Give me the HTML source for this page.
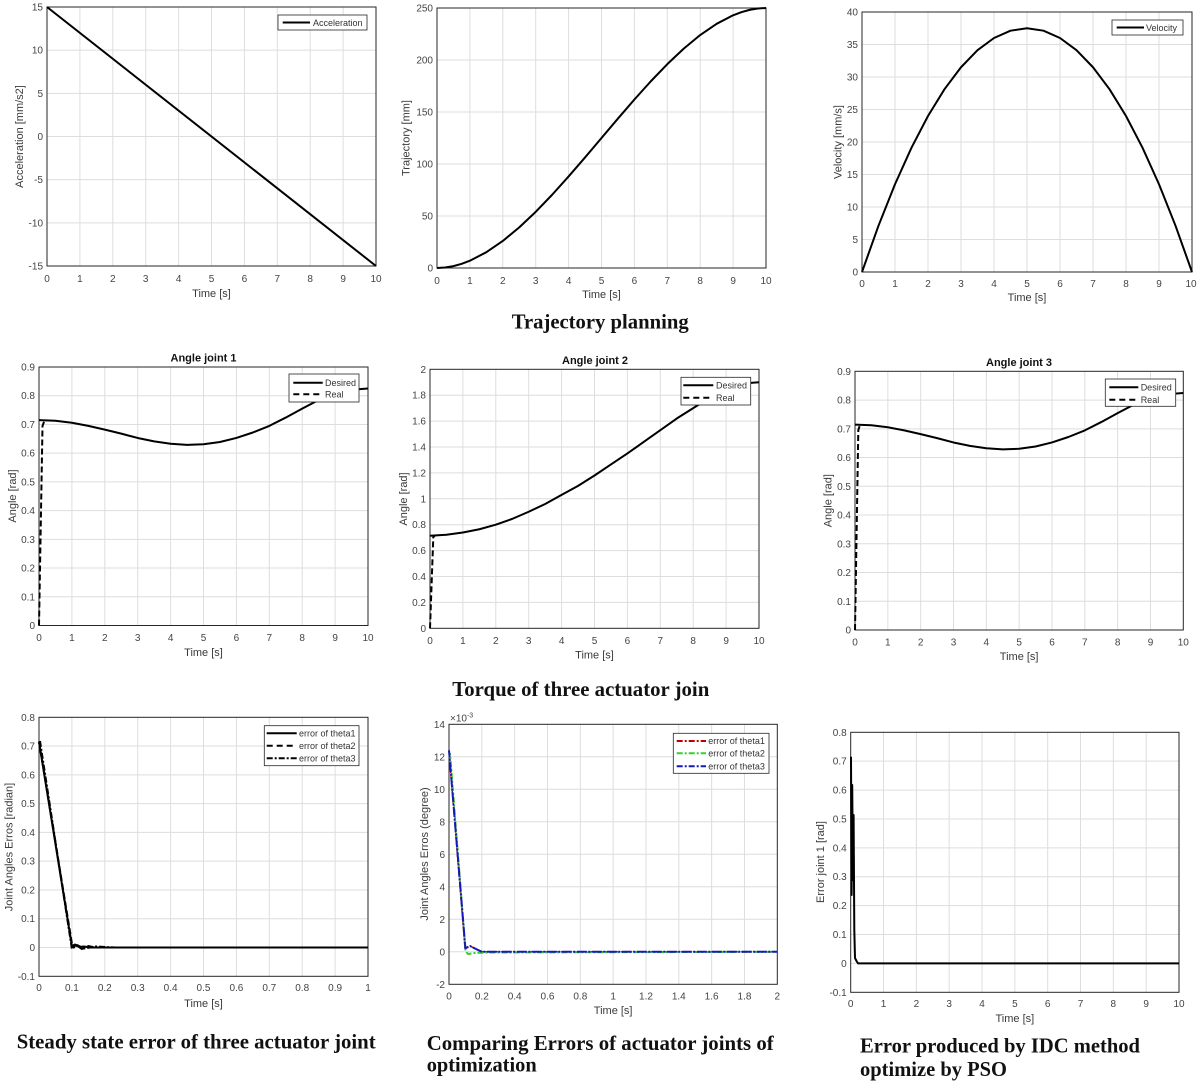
<!DOCTYPE html>
<html>
<head>
<meta charset="utf-8">
<style>
html,body{margin:0;padding:0;background:#fff;}
svg{display:block;}
.ax{font-family:"Liberation Sans",Arial,sans-serif;font-size:10px;fill:#444;}
.lab{font-family:"Liberation Sans",Arial,sans-serif;font-size:11px;fill:#3a3a3a;}
.ttl{font-family:"Liberation Sans",Arial,sans-serif;font-size:11px;font-weight:bold;fill:#111;}
.leg{font-family:"Liberation Sans",Arial,sans-serif;font-size:9px;fill:#333;}
.cap{font-family:"Liberation Serif","Times New Roman",serif;font-size:21px;font-weight:bold;fill:#111;}
.grid{stroke:#dcdedc;stroke-width:1;fill:none;}
.box{stroke:#262626;stroke-width:1;fill:none;}
.lbox{stroke:#262626;stroke-width:0.8;fill:#fff;}
.cv{fill:none;stroke:#000;stroke-width:2;stroke-linejoin:round;}
</style>
</head>
<body>
<svg width="1200" height="1084" viewBox="0 0 1200 1084" xmlns="http://www.w3.org/2000/svg">
<rect width="1200" height="1084" fill="#fff"/>

<!-- ================= P1 Acceleration ================= -->
<path class="grid" d="M79.9 7V266M112.8 7V266M145.7 7V266M178.6 7V266M211.5 7V266M244.4 7V266M277.3 7V266M310.2 7V266M343.1 7V266M47 50.17H376M47 93.33H376M47 136.5H376M47 179.67H376M47 222.83H376"/>
<rect class="box" x="47" y="7" width="329" height="259"/>
<path class="cv" d="M47 7L376 266"/>
<g class="ax" text-anchor="middle">
<text x="47" y="282">0</text><text x="79.9" y="282">1</text><text x="112.8" y="282">2</text><text x="145.7" y="282">3</text><text x="178.6" y="282">4</text><text x="211.5" y="282">5</text><text x="244.4" y="282">6</text><text x="277.3" y="282">7</text><text x="310.2" y="282">8</text><text x="343.1" y="282">9</text><text x="376" y="282">10</text>
</g>
<g class="ax" text-anchor="end">
<text x="43" y="10.5">15</text><text x="43" y="53.7">10</text><text x="43" y="96.8">5</text><text x="43" y="140">0</text><text x="43" y="183.2">-5</text><text x="43" y="226.3">-10</text><text x="43" y="269.5">-15</text>
</g>
<text class="lab" x="211.5" y="297" text-anchor="middle">Time [s]</text>
<text class="lab" transform="translate(23,136.5) rotate(-90)" text-anchor="middle">Acceleration [mm/s2]</text>
<rect class="lbox" x="278" y="15" width="89" height="15"/>
<path d="M282.7 22.5H310" stroke="#000" stroke-width="2"/>
<text class="leg" x="313" y="25.8">Acceleration</text>

<!-- ================= P2 Trajectory ================= -->
<path class="grid" d="M469.9 8V268M502.8 8V268M535.7 8V268M568.6 8V268M601.5 8V268M634.4 8V268M667.3 8V268M700.2 8V268M733.1 8V268M437 60H766M437 112H766M437 164H766M437 216H766"/>
<rect class="box" x="437" y="8" width="329" height="260"/>
<path class="cv" d="M437 268L445.2 267.5L453.45 266.11L461.7 263.8L469.9 260.72L486.35 252.2L502.8 240.96L519.25 227.38L535.7 211.84L552.15 194.75L568.6 176.48L585.05 157.44L601.5 138L617.95 118.56L634.4 99.52L650.85 81.25L667.3 64.16L683.75 48.62L700.2 35.04L716.65 23.8L733.1 15.28L741.3 12.2L749.55 9.89L757.8 8.5L766 8"/>
<g class="ax" text-anchor="middle">
<text x="437" y="284">0</text><text x="469.9" y="284">1</text><text x="502.8" y="284">2</text><text x="535.7" y="284">3</text><text x="568.6" y="284">4</text><text x="601.5" y="284">5</text><text x="634.4" y="284">6</text><text x="667.3" y="284">7</text><text x="700.2" y="284">8</text><text x="733.1" y="284">9</text><text x="766" y="284">10</text>
</g>
<g class="ax" text-anchor="end">
<text x="433" y="11.5">250</text><text x="433" y="63.5">200</text><text x="433" y="115.5">150</text><text x="433" y="167.5">100</text><text x="433" y="219.5">50</text><text x="433" y="271.5">0</text>
</g>
<text class="lab" x="601.5" y="298" text-anchor="middle">Time [s]</text>
<text class="lab" transform="translate(409.5,138) rotate(-90)" text-anchor="middle">Trajectory [mm]</text>
<text class="cap" x="511.7" y="328.5" textLength="177" lengthAdjust="spacingAndGlyphs">Trajectory planning</text>

<!-- ================= P3 Velocity ================= -->
<path class="grid" d="M895 12V272M928 12V272M961 12V272M994 12V272M1027 12V272M1060 12V272M1093 12V272M1126 12V272M1159 12V272M862 44.5H1192M862 77H1192M862 109.5H1192M862 142H1192M862 174.5H1192M862 207H1192M862 239.5H1192"/>
<rect class="box" x="862" y="12" width="330" height="260"/>
<path class="cv" d="M862 272L878.5 225.69L895 184.25L911.5 147.69L928 116L944.5 89.19L961 67.25L977.5 50.19L994 38L1010.5 30.69L1027 28.25L1043.5 30.69L1060 38L1076.5 50.19L1093 67.25L1109.5 89.19L1126 116L1142.5 147.69L1159 184.25L1175.5 225.69L1192 272"/>
<g class="ax" text-anchor="middle">
<text x="862" y="287">0</text><text x="895" y="287">1</text><text x="928" y="287">2</text><text x="961" y="287">3</text><text x="994" y="287">4</text><text x="1027" y="287">5</text><text x="1060" y="287">6</text><text x="1093" y="287">7</text><text x="1126" y="287">8</text><text x="1159" y="287">9</text><text x="1191" y="287">10</text>
</g>
<g class="ax" text-anchor="end">
<text x="858" y="15.5">40</text><text x="858" y="48">35</text><text x="858" y="80.5">30</text><text x="858" y="113">25</text><text x="858" y="145.5">20</text><text x="858" y="178">15</text><text x="858" y="210.5">10</text><text x="858" y="243">5</text><text x="858" y="275.5">0</text>
</g>
<text class="lab" x="1027" y="301" text-anchor="middle">Time [s]</text>
<text class="lab" transform="translate(841.5,142) rotate(-90)" text-anchor="middle">Velocity [mm/s]</text>
<rect class="lbox" x="1112" y="20" width="71" height="15"/>
<path d="M1116.7 27.5H1144" stroke="#000" stroke-width="2"/>
<text class="leg" x="1146" y="30.8">Velocity</text>

<!-- ================= P4 Angle joint 1 ================= -->
<path class="grid" d="M71.9 367V625.5M104.8 367V625.5M137.7 367V625.5M170.6 367V625.5M203.5 367V625.5M236.4 367V625.5M269.3 367V625.5M302.2 367V625.5M335.1 367V625.5M39 596.78H368M39 568.06H368M39 539.33H368M39 510.61H368M39 481.89H368M39 453.17H368M39 424.44H368M39 395.72H368"/>
<rect class="box" x="39" y="367" width="329" height="258.5"/>
<path class="cv" d="M39 625.5L42.5 426L44.5 420.5" stroke-dasharray="6,3"/>
<path class="cv" d="M39 420.15L55.45 420.73L71.9 422.74L88.35 425.9L104.8 429.63L121.25 433.65L137.7 437.96L154.15 441.4L170.6 443.7L187.05 444.85L203.5 444.28L219.95 441.98L236.4 437.96L252.85 432.5L269.3 425.9L285.75 417.57L302.2 408.66L318.65 400.05L335.1 393.44L351.55 389.71L368 388.56"/>
<g class="ax" text-anchor="middle">
<text x="39" y="641">0</text><text x="71.9" y="641">1</text><text x="104.8" y="641">2</text><text x="137.7" y="641">3</text><text x="170.6" y="641">4</text><text x="203.5" y="641">5</text><text x="236.4" y="641">6</text><text x="269.3" y="641">7</text><text x="302.2" y="641">8</text><text x="335.1" y="641">9</text><text x="368" y="641">10</text>
</g>
<g class="ax" text-anchor="end">
<text x="35" y="629">0</text><text x="35" y="600.3">0.1</text><text x="35" y="571.6">0.2</text><text x="35" y="542.8">0.3</text><text x="35" y="514.1">0.4</text><text x="35" y="485.4">0.5</text><text x="35" y="456.7">0.6</text><text x="35" y="427.9">0.7</text><text x="35" y="399.2">0.8</text><text x="35" y="370.5">0.9</text>
</g>
<text class="ttl" x="203.5" y="361.5" text-anchor="middle">Angle joint 1</text>
<text class="lab" x="203.5" y="656" text-anchor="middle">Time [s]</text>
<text class="lab" transform="translate(16,496) rotate(-90)" text-anchor="middle">Angle [rad]</text>
<rect class="lbox" x="289" y="374" width="70" height="28"/>
<path d="M293.3 382.7H322.7" stroke="#000" stroke-width="2"/>
<path d="M293.3 394.3H322.7" stroke="#000" stroke-width="2" stroke-dasharray="6,4"/>
<text class="leg" x="325" y="385.9">Desired</text>
<text class="leg" x="325" y="397.5">Real</text>

<!-- ================= P5 Angle joint 2 ================= -->
<path class="grid" d="M462.9 369.3V628.3M495.8 369.3V628.3M528.7 369.3V628.3M561.6 369.3V628.3M594.5 369.3V628.3M627.4 369.3V628.3M660.3 369.3V628.3M693.2 369.3V628.3M726.1 369.3V628.3M430 602.4H759M430 576.5H759M430 550.6H759M430 524.7H759M430 498.8H759M430 472.9H759M430 447H759M430 421.1H759M430 395.2H759"/>
<rect class="box" x="430" y="369.3" width="329" height="259"/>
<path class="cv" d="M430 628.3L433.3 537L435 535.5" stroke-dasharray="6,3"/>
<path class="cv" d="M430 535.71L446.45 534.8L462.9 532.47L479.35 529.23L495.8 524.7L512.25 518.87L528.7 511.75L545.15 503.98L561.6 494.91L578.05 485.85L594.5 475.49L610.95 464.48L627.4 453.47L643.85 441.82L660.3 430.16L676.75 418.51L693.2 408.15L709.65 397.79L726.1 388.72L742.55 383.54L759 382.25"/>
<g class="ax" text-anchor="middle">
<text x="430" y="644">0</text><text x="462.9" y="644">1</text><text x="495.8" y="644">2</text><text x="528.7" y="644">3</text><text x="561.6" y="644">4</text><text x="594.5" y="644">5</text><text x="627.4" y="644">6</text><text x="660.3" y="644">7</text><text x="693.2" y="644">8</text><text x="726.1" y="644">9</text><text x="759" y="644">10</text>
</g>
<g class="ax" text-anchor="end">
<text x="426" y="631.8">0</text><text x="426" y="605.9">0.2</text><text x="426" y="580">0.4</text><text x="426" y="554.1">0.6</text><text x="426" y="528.2">0.8</text><text x="426" y="502.3">1</text><text x="426" y="476.4">1.2</text><text x="426" y="450.5">1.4</text><text x="426" y="424.6">1.6</text><text x="426" y="398.7">1.8</text><text x="426" y="372.8">2</text>
</g>
<text class="ttl" x="595" y="364" text-anchor="middle">Angle joint 2</text>
<text class="lab" x="594.5" y="658.5" text-anchor="middle">Time [s]</text>
<text class="lab" transform="translate(407,499) rotate(-90)" text-anchor="middle">Angle [rad]</text>
<rect class="lbox" x="681" y="377.3" width="69.7" height="27.7"/>
<path d="M683.3 385.3H713.3" stroke="#000" stroke-width="2"/>
<path d="M683.3 397.7H713.3" stroke="#000" stroke-width="2" stroke-dasharray="6,4"/>
<text class="leg" x="716" y="388.5">Desired</text>
<text class="leg" x="716" y="400.9">Real</text>
<text class="cap" x="452.3" y="696" textLength="257" lengthAdjust="spacingAndGlyphs">Torque of three actuator join</text>

<!-- ================= P6 Angle joint 3 ================= -->
<path class="grid" d="M887.83 371.3V630M920.66 371.3V630M953.49 371.3V630M986.32 371.3V630M1019.15 371.3V630M1051.98 371.3V630M1084.81 371.3V630M1117.64 371.3V630M1150.47 371.3V630M855 601.26H1183.3M855 572.52H1183.3M855 543.78H1183.3M855 515.04H1183.3M855 486.3H1183.3M855 457.56H1183.3M855 428.82H1183.3M855 400.08H1183.3"/>
<rect class="box" x="855" y="371.3" width="328.3" height="258.7"/>
<path class="cv" d="M855 630L858.3 430L860 425" stroke-dasharray="6,3"/>
<path class="cv" d="M855 424.65L871.42 425.23L887.83 427.24L904.25 430.4L920.66 434.13L937.08 438.15L953.49 442.46L969.91 445.9L986.32 448.2L1002.74 449.35L1019.15 448.78L1035.57 446.48L1051.98 442.46L1068.4 437L1084.81 430.4L1101.23 422.07L1117.64 413.16L1134.06 404.55L1150.47 397.94L1166.89 394.21L1183.3 393.06"/>
<g class="ax" text-anchor="middle">
<text x="855" y="645.5">0</text><text x="887.83" y="645.5">1</text><text x="920.66" y="645.5">2</text><text x="953.49" y="645.5">3</text><text x="986.32" y="645.5">4</text><text x="1019.15" y="645.5">5</text><text x="1051.98" y="645.5">6</text><text x="1084.81" y="645.5">7</text><text x="1117.64" y="645.5">8</text><text x="1150.47" y="645.5">9</text><text x="1183.3" y="645.5">10</text>
</g>
<g class="ax" text-anchor="end">
<text x="851" y="633.5">0</text><text x="851" y="604.8">0.1</text><text x="851" y="576">0.2</text><text x="851" y="547.3">0.3</text><text x="851" y="518.5">0.4</text><text x="851" y="489.8">0.5</text><text x="851" y="461.1">0.6</text><text x="851" y="432.3">0.7</text><text x="851" y="403.6">0.8</text><text x="851" y="374.8">0.9</text>
</g>
<text class="ttl" x="1019" y="366" text-anchor="middle">Angle joint 3</text>
<text class="lab" x="1019.15" y="660" text-anchor="middle">Time [s]</text>
<text class="lab" transform="translate(831.5,500.7) rotate(-90)" text-anchor="middle">Angle [rad]</text>
<rect class="lbox" x="1105.3" y="379" width="70.4" height="27.3"/>
<path d="M1109.3 387.3H1138.3" stroke="#000" stroke-width="2"/>
<path d="M1109.3 399.7H1138.3" stroke="#000" stroke-width="2" stroke-dasharray="6,4"/>
<text class="leg" x="1140.7" y="390.5">Desired</text>
<text class="leg" x="1140.7" y="402.9">Real</text>

<!-- ================= P7 Steady state error ================= -->
<path class="grid" d="M71.9 717.3V976.3M104.8 717.3V976.3M137.7 717.3V976.3M170.6 717.3V976.3M203.5 717.3V976.3M236.4 717.3V976.3M269.3 717.3V976.3M302.2 717.3V976.3M335.1 717.3V976.3M39 947.52H368M39 918.74H368M39 889.96H368M39 861.18H368M39 832.4H368M39 803.62H368M39 774.84H368M39 746.06H368"/>
<rect class="box" x="39" y="717.3" width="329" height="259"/>
<path class="cv" d="M40 741L71.9 949L77 945L84 948.5L96 946.5L115 947.5L368 947.5" stroke-dasharray="6,2,2,2"/>
<path class="cv" d="M39 741.7L72.5 947L76 945.5L82 949L88 946L95 947.5L368 947.5" stroke-dasharray="6,3"/>
<path class="cv" d="M39 741.7L71.9 946L75 944.5L79 947L84 946.5L90 947.5L368 947.5"/>
<g class="ax" text-anchor="middle">
<text x="39" y="991">0</text><text x="71.9" y="991">0.1</text><text x="104.8" y="991">0.2</text><text x="137.7" y="991">0.3</text><text x="170.6" y="991">0.4</text><text x="203.5" y="991">0.5</text><text x="236.4" y="991">0.6</text><text x="269.3" y="991">0.7</text><text x="302.2" y="991">0.8</text><text x="335.1" y="991">0.9</text><text x="368" y="991">1</text>
</g>
<g class="ax" text-anchor="end">
<text x="35" y="979.8">-0.1</text><text x="35" y="951">0</text><text x="35" y="922.2">0.1</text><text x="35" y="893.5">0.2</text><text x="35" y="864.7">0.3</text><text x="35" y="835.9">0.4</text><text x="35" y="807.1">0.5</text><text x="35" y="778.3">0.6</text><text x="35" y="749.6">0.7</text><text x="35" y="720.8">0.8</text>
</g>
<text class="lab" x="203.5" y="1007" text-anchor="middle">Time [s]</text>
<text class="lab" transform="translate(12.5,847) rotate(-90)" text-anchor="middle">Joint Angles Erros [radian]</text>
<rect class="lbox" x="264.3" y="725.7" width="94.7" height="40"/>
<path d="M266.7 733.3H296.7" stroke="#000" stroke-width="2"/>
<path d="M266.7 745.7H296.7" stroke="#000" stroke-width="2" stroke-dasharray="6,4"/>
<path d="M266.7 758.3H296.7" stroke="#000" stroke-width="2" stroke-dasharray="6,2,2,2"/>
<text class="leg" x="299" y="736.5">error of theta1</text>
<text class="leg" x="299" y="748.9">error of theta2</text>
<text class="leg" x="299" y="761.5">error of theta3</text>
<text class="cap" x="16.7" y="1048.3" textLength="359" lengthAdjust="spacingAndGlyphs">Steady state error of three actuator joint</text>

<!-- ================= P8 Comparing errors ================= -->
<path class="grid" d="M481.83 724.3V984.3M514.66 724.3V984.3M547.49 724.3V984.3M580.32 724.3V984.3M613.15 724.3V984.3M645.98 724.3V984.3M678.81 724.3V984.3M711.64 724.3V984.3M744.47 724.3V984.3M449 951.8H777.3M449 919.3H777.3M449 886.8H777.3M449 854.3H777.3M449 821.8H777.3M449 789.3H777.3M449 756.8H777.3"/>
<rect class="box" x="449" y="724.3" width="328.3" height="260"/>
<path d="M449 751L465 948.5L470 946L476 949L482 951.8L777.3 951.8" style="fill:none;stroke:#c00000;stroke-width:1.5;stroke-linejoin:round;stroke-dasharray:6,2,2,2"/>
<path d="M450 753L465.5 951L468 954L475 953L490 952.5L777.3 951.8" style="fill:none;stroke:#33d033;stroke-width:2;stroke-linejoin:round;stroke-dasharray:6,2,2,2;stroke-dashoffset:4"/>
<path d="M449 750.3L465.4 948.3L470 946L476 949L481.8 951.8L777.3 951.8" style="fill:none;stroke:#1818b8;stroke-width:2;stroke-linejoin:round;stroke-dasharray:10,1.5,2,1.5;stroke-dashoffset:3"/>
<g class="ax" text-anchor="middle">
<text x="449" y="999.5">0</text><text x="481.83" y="999.5">0.2</text><text x="514.66" y="999.5">0.4</text><text x="547.49" y="999.5">0.6</text><text x="580.32" y="999.5">0.8</text><text x="613.15" y="999.5">1</text><text x="645.98" y="999.5">1.2</text><text x="678.81" y="999.5">1.4</text><text x="711.64" y="999.5">1.6</text><text x="744.47" y="999.5">1.8</text><text x="777.3" y="999.5">2</text>
</g>
<g class="ax" text-anchor="end">
<text x="445" y="987.8">-2</text><text x="445" y="955.3">0</text><text x="445" y="922.8">2</text><text x="445" y="890.3">4</text><text x="445" y="857.8">6</text><text x="445" y="825.3">8</text><text x="445" y="792.8">10</text><text x="445" y="760.3">12</text><text x="445" y="727.8">14</text>
</g>
<text class="ax" x="450" y="721.7">×10<tspan font-size="7" dy="-4">-3</tspan></text>
<text class="lab" x="613.15" y="1014" text-anchor="middle">Time [s]</text>
<text class="lab" transform="translate(428,854) rotate(-90)" text-anchor="middle">Joint Angles Erros (degree)</text>
<rect class="lbox" x="673.3" y="733.3" width="95.7" height="40"/>
<path d="M676.7 741H706" stroke="#c00000" stroke-width="2" stroke-dasharray="6,2,2,2"/>
<path d="M676.7 753.3H706" stroke="#33d033" stroke-width="2" stroke-dasharray="6,2,2,2"/>
<path d="M676.7 766.3H706" stroke="#1818b8" stroke-width="2" stroke-dasharray="6,2,2,2"/>
<text class="leg" x="708.3" y="744.2">error of theta1</text>
<text class="leg" x="708.3" y="756.5">error of theta2</text>
<text class="leg" x="708.3" y="769.5">error of theta3</text>
<text class="cap" x="426.7" y="1050" textLength="347" lengthAdjust="spacingAndGlyphs">Comparing Errors of actuator joints of</text>
<text class="cap" x="426.7" y="1071.7" textLength="110" lengthAdjust="spacingAndGlyphs">optimization</text>

<!-- ================= P9 Error joint 1 ================= -->
<path class="grid" d="M883.53 732.3V992.3M916.36 732.3V992.3M949.19 732.3V992.3M982.02 732.3V992.3M1014.85 732.3V992.3M1047.68 732.3V992.3M1080.51 732.3V992.3M1113.34 732.3V992.3M1146.17 732.3V992.3M850.7 963.41H1179M850.7 934.52H1179M850.7 905.63H1179M850.7 876.74H1179M850.7 847.85H1179M850.7 818.96H1179M850.7 790.07H1179M850.7 761.18H1179"/>
<rect class="box" x="850.7" y="732.3" width="328.3" height="260"/>
<path class="cv" d="M851 756.8L851.6 895L852.2 785L853 880L853.6 815L854.3 930L855 958L856.5 961L858 963.4L1179 963.4"/>
<g class="ax" text-anchor="middle">
<text x="850.7" y="1007">0</text><text x="883.53" y="1007">1</text><text x="916.36" y="1007">2</text><text x="949.19" y="1007">3</text><text x="982.02" y="1007">4</text><text x="1014.85" y="1007">5</text><text x="1047.68" y="1007">6</text><text x="1080.51" y="1007">7</text><text x="1113.34" y="1007">8</text><text x="1146.17" y="1007">9</text><text x="1179" y="1007">10</text>
</g>
<g class="ax" text-anchor="end">
<text x="846.7" y="995.8">-0.1</text><text x="846.7" y="966.9">0</text><text x="846.7" y="938">0.1</text><text x="846.7" y="909.1">0.2</text><text x="846.7" y="880.2">0.3</text><text x="846.7" y="851.4">0.4</text><text x="846.7" y="822.5">0.5</text><text x="846.7" y="793.6">0.6</text><text x="846.7" y="764.7">0.7</text><text x="846.7" y="735.8">0.8</text>
</g>
<text class="lab" x="1014.85" y="1022" text-anchor="middle">Time [s]</text>
<text class="lab" transform="translate(824,862) rotate(-90)" text-anchor="middle">Error joint 1 [rad]</text>
<text class="cap" x="860" y="1052.7" textLength="280" lengthAdjust="spacingAndGlyphs">Error produced by IDC method</text>
<text class="cap" x="860" y="1076" textLength="147" lengthAdjust="spacingAndGlyphs">optimize by PSO</text>

</svg>
</body>
</html>
